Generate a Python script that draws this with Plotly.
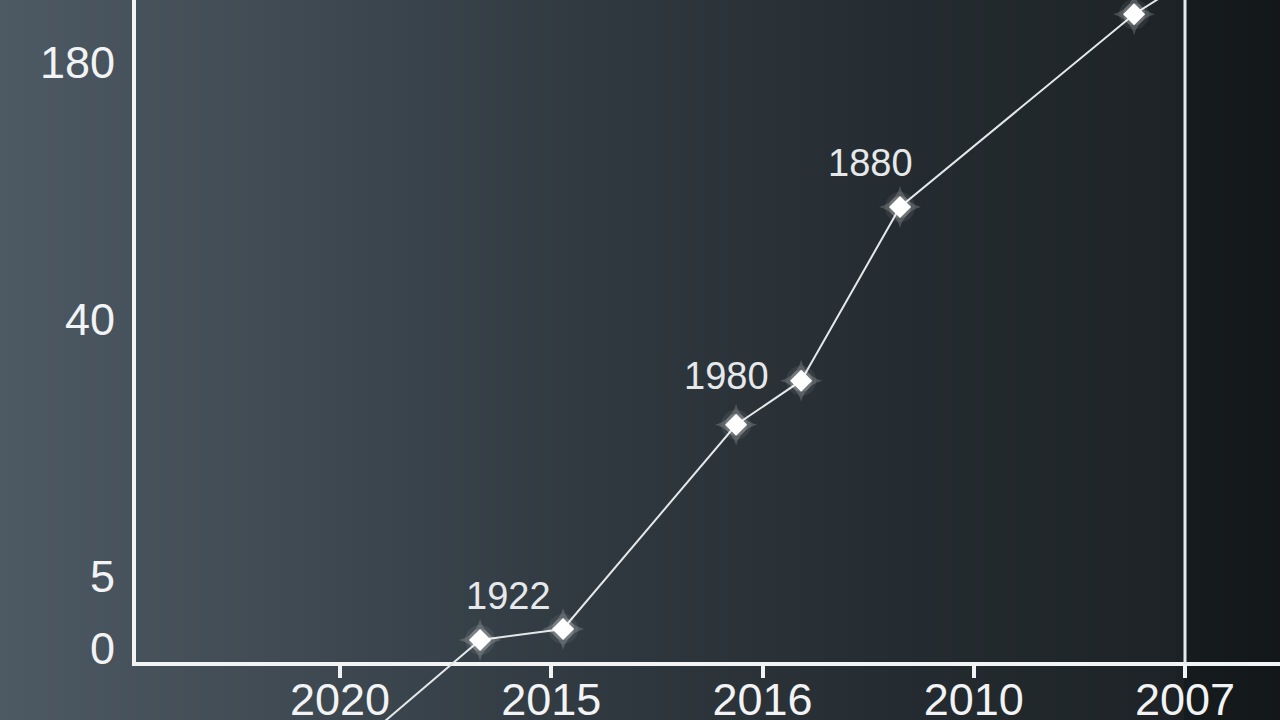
import numpy as np
import plotly.graph_objects as go

# ---------------- data ----------------
X_LABELS = ["2020", "2015", "2016", "2010", "2007"]      # category slots 0..4
Y_TICKS = [0, 5, 40, 180]
Y_TICK_LABELS = ["0", "5", "40", "180"]

# markers: x in category-slot units, y in value units
POINT_X = [0.663, 1.056, 1.875, 2.183, 2.651, 3.759]
POINT_Y = [0.56, 1.32, 25.6, 31.6, 101.0, 206.0]

# the line runs on past the frame at both ends
LEAD_IN_X, LEAD_IN_Y = [0.107], [-6.4]
LEAD_OUT_X, LEAD_OUT_Y = [4.016], [224.7]

LABELS = ["1922", "1980", "1880"]
LABEL_AT = [0, 2, 4]          # index of the point each label belongs to

# ---------------- non-linear y scale (piecewise linear) ----------------
SCALE_VALS = np.array([0, 5, 40, 180], dtype=float)
SCALE_POS = np.array([0, 72, 329, 586], dtype=float)


def to_pos(v):
    v = np.atleast_1d(np.asarray(v, dtype=float))
    out = np.interp(v, SCALE_VALS, SCALE_POS)
    lo = v < SCALE_VALS[0]
    hi = v > SCALE_VALS[-1]
    s0 = (SCALE_POS[1] - SCALE_POS[0]) / (SCALE_VALS[1] - SCALE_VALS[0])
    s1 = (SCALE_POS[-1] - SCALE_POS[-2]) / (SCALE_VALS[-1] - SCALE_VALS[-2])
    out[lo] = SCALE_POS[0] + (v[lo] - SCALE_VALS[0]) * s0
    out[hi] = SCALE_POS[-1] + (v[hi] - SCALE_VALS[-1]) * s1
    return out


W, H = 1280, 720
X_RANGE = [-1.6095, 4.4497]
Y_RANGE = [-72, 648]
X_AXIS_POS = (H - 664) / H
Y_AXIS_POS = 134 / W
FONT = "Liberation Sans, Arial, sans-serif"
WHITE = "#f1f3f4"

fig = go.Figure()

line_x = LEAD_IN_X + POINT_X + LEAD_OUT_X
line_y = to_pos(LEAD_IN_Y + POINT_Y + LEAD_OUT_Y)
py = to_pos(POINT_Y)

fig.add_trace(go.Scatter(x=line_x, y=line_y, mode="lines",
                         line=dict(color="#e4e8ea", width=2),
                         hoverinfo="skip", showlegend=False))
# glow
fig.add_trace(go.Scatter(x=POINT_X, y=py, mode="markers",
                         marker=dict(symbol="circle", size=30,
                                     color="rgba(255,255,255,0.07)", line=dict(width=0)),
                         hoverinfo="skip", showlegend=False, cliponaxis=False))
fig.add_trace(go.Scatter(x=POINT_X, y=py, mode="markers",
                         marker=dict(symbol="circle", size=22,
                                     color="rgba(255,255,255,0.14)", line=dict(width=0)),
                         hoverinfo="skip", showlegend=False, cliponaxis=False))
fig.add_trace(go.Scatter(x=POINT_X, y=py, mode="markers",
                         marker=dict(symbol="star-diamond", size=30,
                                     color="rgba(255,255,255,0.18)", line=dict(width=0)),
                         hoverinfo="skip", showlegend=False, cliponaxis=False))
fig.add_trace(go.Scatter(x=POINT_X, y=py, mode="markers",
                         marker=dict(symbol="diamond", size=17, color="#ffffff",
                                     line=dict(width=0)),
                         showlegend=False, cliponaxis=False))

# ---------------- background gradient ----------------
stops = [(0.0, (77, 89, 99)), (0.2, (65, 76, 85)), (0.45, (49, 58, 65)),
         (0.7, (37, 44, 49)), (0.92, (29, 35, 38)), (0.927, (22, 27, 29)),
         (1.0, (19, 23, 25))]
sf = [s[0] for s in stops]
shapes = []
N = 160
for i in range(N):
    f0, f1 = i / N, (i + 1) / N
    fm = (f0 + f1) / 2
    rgb = [int(round(np.interp(fm, sf, [s[1][k] for s in stops]))) for k in range(3)]
    shapes.append(dict(type="rect", xref="paper", yref="paper", x0=f0, x1=f1 + 0.001,
                       y0=0, y1=1, fillcolor="rgb(%d,%d,%d)" % tuple(rgb),
                       line=dict(width=0), layer="below"))

# axis lines and the vertical rule at the last slot
shapes.append(dict(type="line", xref="paper", yref="paper", x0=Y_AXIS_POS, x1=Y_AXIS_POS,
                   y0=X_AXIS_POS - 0.002, y1=1, line=dict(color=WHITE, width=4), layer="below"))
shapes.append(dict(type="line", xref="paper", yref="paper", x0=Y_AXIS_POS - 0.0016, x1=1,
                   y0=X_AXIS_POS, y1=X_AXIS_POS, line=dict(color=WHITE, width=4), layer="below"))
shapes.append(dict(type="line", xref="x", yref="paper", x0=len(X_LABELS) - 1,
                   x1=len(X_LABELS) - 1, y0=X_AXIS_POS, y1=1,
                   line=dict(color="#e6e9eb", width=3), layer="below"))

annotations = []
offsets = [(28, 44), (-10, 49), (-30, 44)]
for txt, idx, (dx, dy) in zip(LABELS, LABEL_AT, offsets):
    annotations.append(dict(x=POINT_X[idx], y=py[idx], text=txt, showarrow=False,
                            xshift=dx, yshift=dy, font=dict(family=FONT, size=38,
                                                            color="#e6e9eb")))

ytick_pos = to_pos(Y_TICKS)
ymark_pos = to_pos(Y_TICKS[1:])

fig.update_layout(
    width=W, height=H, margin=dict(l=0, r=0, t=0, b=0),
    paper_bgcolor="#2f383e", plot_bgcolor="rgba(0,0,0,0)",
    shapes=shapes, annotations=annotations, showlegend=False,
    xaxis=dict(range=X_RANGE, anchor="free", position=X_AXIS_POS,
               tickvals=list(range(len(X_LABELS))), ticktext=X_LABELS,
               ticks="outside", ticklen=13, tickwidth=4, tickcolor=WHITE,
               ticklabelstandoff=-17,
               tickfont=dict(family=FONT, size=45, color=WHITE),
               showline=False, showgrid=False, zeroline=False, automargin=False),
    yaxis=dict(range=Y_RANGE, anchor="free", position=Y_AXIS_POS,
               tickvals=list(ytick_pos), ticktext=Y_TICK_LABELS, ticks="",
               ticklabelstandoff=19,
               tickfont=dict(family=FONT, size=45, color=WHITE),
               showline=False, showgrid=False, zeroline=False, automargin=False),
    yaxis2=dict(range=Y_RANGE, overlaying="y", anchor="free", position=Y_AXIS_POS,
                tickvals=list(ymark_pos), ticks="outside", ticklen=7, tickwidth=4,
                tickcolor=WHITE, showticklabels=False, showline=False,
                showgrid=False, zeroline=False, automargin=False),
    yaxis3=dict(range=Y_RANGE, overlaying="y", anchor="free", position=Y_AXIS_POS,
                tickvals=list(ymark_pos), ticks="inside", ticklen=13, tickwidth=4,
                tickcolor=WHITE, showticklabels=False, showline=False,
                showgrid=False, zeroline=False, automargin=False),
)

fig.write_html("out.html", config={"displayModeBar": False},
               post_script="document.body.style.margin='0';document.body.style.overflow='hidden';")
